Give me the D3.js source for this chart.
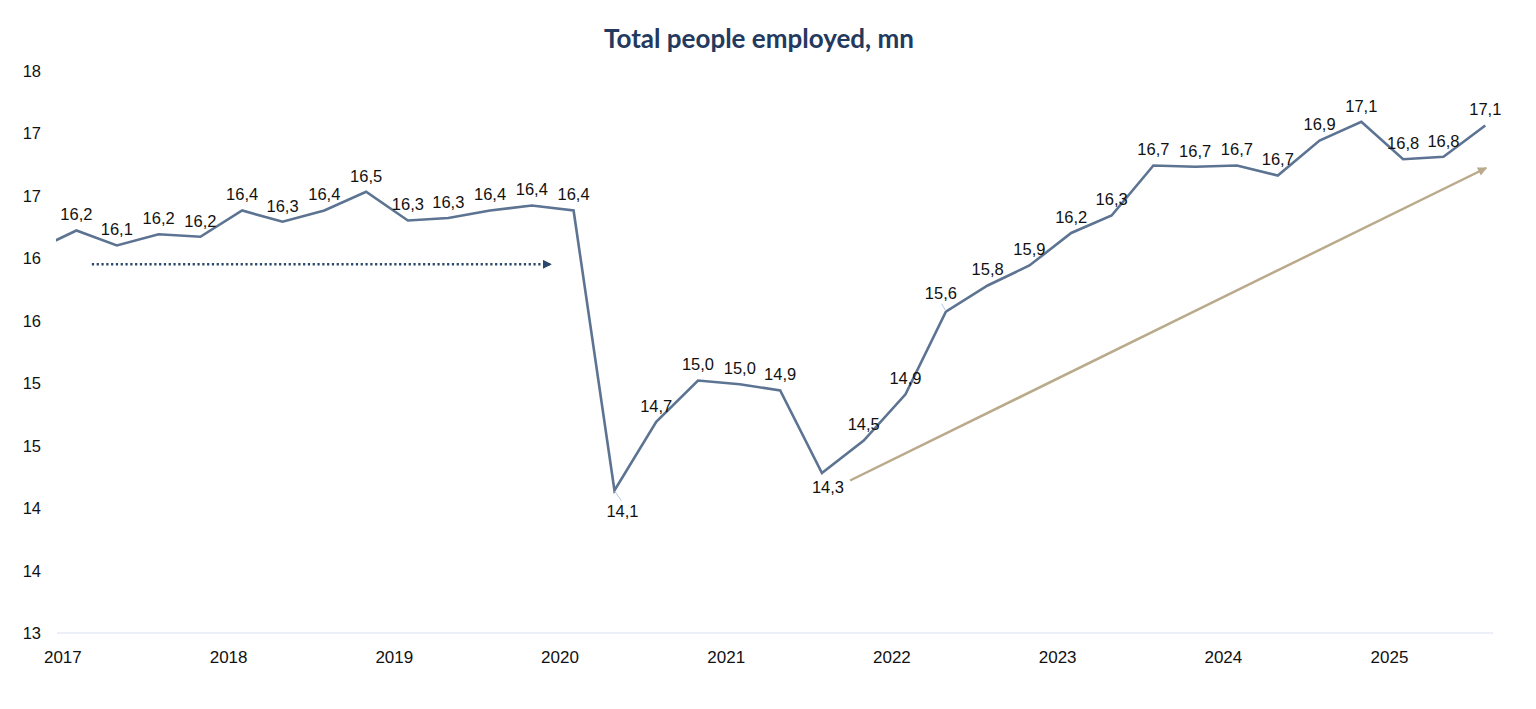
<!DOCTYPE html>
<html>
<head>
<meta charset="utf-8">
<script src="https://cdn.jsdelivr.net/npm/d3@7"></script>
<style>
  html, body { margin: 0; padding: 0; background: #ffffff; }
  svg { display: block; }
</style>
</head>
<body>
<svg id="chart" width="1536" height="709"></svg>
<script>
// ---------- DATA ----------
const periods = [
  "2016-11",
  "2017-02","2017-05","2017-08","2017-11",
  "2018-02","2018-05","2018-08","2018-11",
  "2019-02","2019-05","2019-08","2019-11",
  "2020-02","2020-05","2020-08","2020-11",
  "2021-02","2021-05","2021-08","2021-11",
  "2022-02","2022-05","2022-08","2022-11",
  "2023-02","2023-05","2023-08","2023-11",
  "2024-02","2024-05","2024-08","2024-11",
  "2025-02","2025-05","2025-08"
];
const employed = [
  16.06,
  16.22, 16.10, 16.19, 16.17,
  16.38, 16.29, 16.38, 16.53,
  16.30, 16.32, 16.38, 16.42,
  16.38, 14.14, 14.69, 15.02,
  14.99, 14.94, 14.28, 14.54,
  14.91, 15.57, 15.78, 15.94,
  16.20, 16.34, 16.74, 16.73,
  16.74, 16.66, 16.94, 17.09,
  16.79, 16.81, 17.06
];
// first period only feeds the clipped line start (no label)
const labelled = periods.map((p, i) => i > 0);

const yTicks = [13, 13.5, 14, 14.5, 15, 15.5, 16, 16.5, 17, 17.5];
const yTickLabels = ["13", "14", "14", "15", "15", "16", "16", "17", "17", "18"];
const xTickYears = [2017, 2018, 2019, 2020, 2021, 2022, 2023, 2024, 2025];

const titleText = "Total people employed, mn";

// annotation arrows, in data units (date, value)
const arrowFlat = { from: ["2017-03-07", 15.95], to: ["2019-12-13", 15.95] };
const arrowTrend = { from: ["2021-10-02", 14.22], to: ["2025-08-03", 16.72] };

// ---------- LAYOUT / STYLE ----------
const plot = { left: 56, right: 1493, top: 70.5, bottom: 633 };
const colors = {
  line: "#5c7392",
  title: "#23395d",
  text: "#111111",
  axis: "#e4ebf4",
  flat: "#2c476c",
  trend: "#b9aa8b",
  leader: "#b3c6e6"
};
// label placement overrides (offsets of label centre from point)
const labelPlacement = {
  "2020-05": { dx: 8, dy: 21, leader: true },
  "2021-08": { dx: 6, dy: 14 },
  "2022-05": { dx: -5, dy: -19, leader: true }
};
const defaultPlacement = { dx: 0, dy: -16 };

// ---------- CHART ----------
const parse = d3.timeParse("%Y-%m-%d");
const parseMonth = d3.timeParse("%Y-%m");
const data = periods.map((p, i) => ({ key: p, date: parseMonth(p), value: employed[i], labelled: labelled[i] }));

const svg = d3.select("#chart");

const x = d3.scaleTime()
  .domain([new Date(2016, 11, 18), new Date(2025, 7, 18)])
  .range([plot.left, plot.right]);
const y = d3.scaleLinear()
  .domain([13, 17.5])
  .range([plot.bottom, plot.top]);

// title
svg.append("text")
  .attr("x", 759)
  .attr("y", 48)
  .attr("text-anchor", "middle")
  .attr("font-family", "Lato, 'Open Sans', sans-serif")
  .attr("font-weight", 700)
  .attr("font-size", 26)
  .attr("fill", colors.title)
  .text(titleText);

// y axis (labels only)
const yAxis = d3.axisLeft(y)
  .tickValues(yTicks)
  .tickFormat((d, i) => yTickLabels[i])
  .tickSize(0)
  .tickPadding(0);
const gy = svg.append("g").attr("transform", "translate(41,0)").call(yAxis);
gy.select(".domain").remove();
gy.selectAll("text")
  .attr("font-family", "'Liberation Sans', Arial, sans-serif")
  .attr("font-size", 16.5)
  .attr("fill", colors.text)
  .attr("dy", "0.36em");

// x axis
const xAxis = d3.axisBottom(x)
  .tickValues(xTickYears.map(yr => new Date(yr, 0, 1)))
  .tickFormat(d3.timeFormat("%Y"))
  .tickSize(0)
  .tickPadding(18);
const gx = svg.append("g").attr("transform", `translate(0,${plot.bottom})`).call(xAxis);
gx.select(".domain")
  .attr("stroke", colors.axis)
  .attr("stroke-width", 1.5)
  .attr("d", `M${plot.left + 1},0H${plot.right}`);
gx.selectAll("text")
  .attr("font-family", "'Liberation Sans', Arial, sans-serif")
  .attr("font-size", 17)
  .attr("fill", colors.text);

// clip
svg.append("defs").append("clipPath").attr("id", "plotclip")
  .append("rect")
  .attr("x", plot.left).attr("y", 0)
  .attr("width", plot.right - plot.left + 10)
  .attr("height", 709);

// arrow markers
const defs = svg.select("defs");
defs.append("marker")
  .attr("id", "headFlat")
  .attr("viewBox", "0 0 10 10")
  .attr("refX", 9).attr("refY", 5)
  .attr("markerWidth", 3.6).attr("markerHeight", 3.6)
  .attr("markerUnits", "strokeWidth")
  .attr("orient", "auto")
  .append("path").attr("d", "M0,0L10,5L0,10Z").attr("fill", colors.flat);
defs.append("marker")
  .attr("id", "headTrend")
  .attr("viewBox", "0 0 10 10")
  .attr("refX", 9).attr("refY", 5)
  .attr("markerWidth", 4).attr("markerHeight", 3.6)
  .attr("markerUnits", "strokeWidth")
  .attr("orient", "auto")
  .append("path").attr("d", "M0,0L10,5L0,10Z").attr("fill", colors.trend);

// annotation arrows
function arrowLine(a, color, marker, dash) {
  const l = svg.append("line")
    .attr("x1", x(parse(a.from[0]))).attr("y1", y(a.from[1]))
    .attr("x2", x(parse(a.to[0]))).attr("y2", y(a.to[1]))
    .attr("stroke", color)
    .attr("stroke-width", 2.5)
    .attr("marker-end", `url(#${marker})`);
  if (dash) l.attr("stroke-dasharray", dash);
  return l;
}
arrowLine(arrowFlat, colors.flat, "headFlat", "2.2,2.6");
arrowLine(arrowTrend, colors.trend, "headTrend", null);

// main line
const line = d3.line().x(d => x(d.date)).y(d => y(d.value));
svg.append("path")
  .datum(data)
  .attr("clip-path", "url(#plotclip)")
  .attr("fill", "none")
  .attr("stroke", colors.line)
  .attr("stroke-width", 2.6)
  .attr("stroke-linejoin", "miter")
  .attr("d", line);

// leader lines + data labels
const fmt = d3.format(".1f");
const lab = data.filter(d => d.labelled);
lab.forEach(d => {
  const p = labelPlacement[d.key] || defaultPlacement;
  const px = x(d.date), py = y(d.value);
  if (p.leader) {
    const sgn = p.dy > 0 ? 1 : -1;
    svg.append("line")
      .attr("x1", px + p.dx * 0.05).attr("y1", py + sgn * 1)
      .attr("x2", px + p.dx * 0.85).attr("y2", py + p.dy - sgn * 11)
      .attr("stroke", colors.leader)
      .attr("stroke-width", 1);
  }
});
svg.append("g")
  .selectAll("text")
  .data(lab)
  .join("text")
  .attr("x", d => x(d.date) + (labelPlacement[d.key] || defaultPlacement).dx)
  .attr("y", d => y(d.value) + (labelPlacement[d.key] || defaultPlacement).dy)
  .attr("dy", "0.36em")
  .attr("text-anchor", "middle")
  .attr("font-family", "'Liberation Sans', Arial, sans-serif")
  .attr("font-size", 16.5)
  .attr("fill", colors.text)
  .text(d => fmt(d.value).replace(".", ","));
</script>
</body>
</html>
